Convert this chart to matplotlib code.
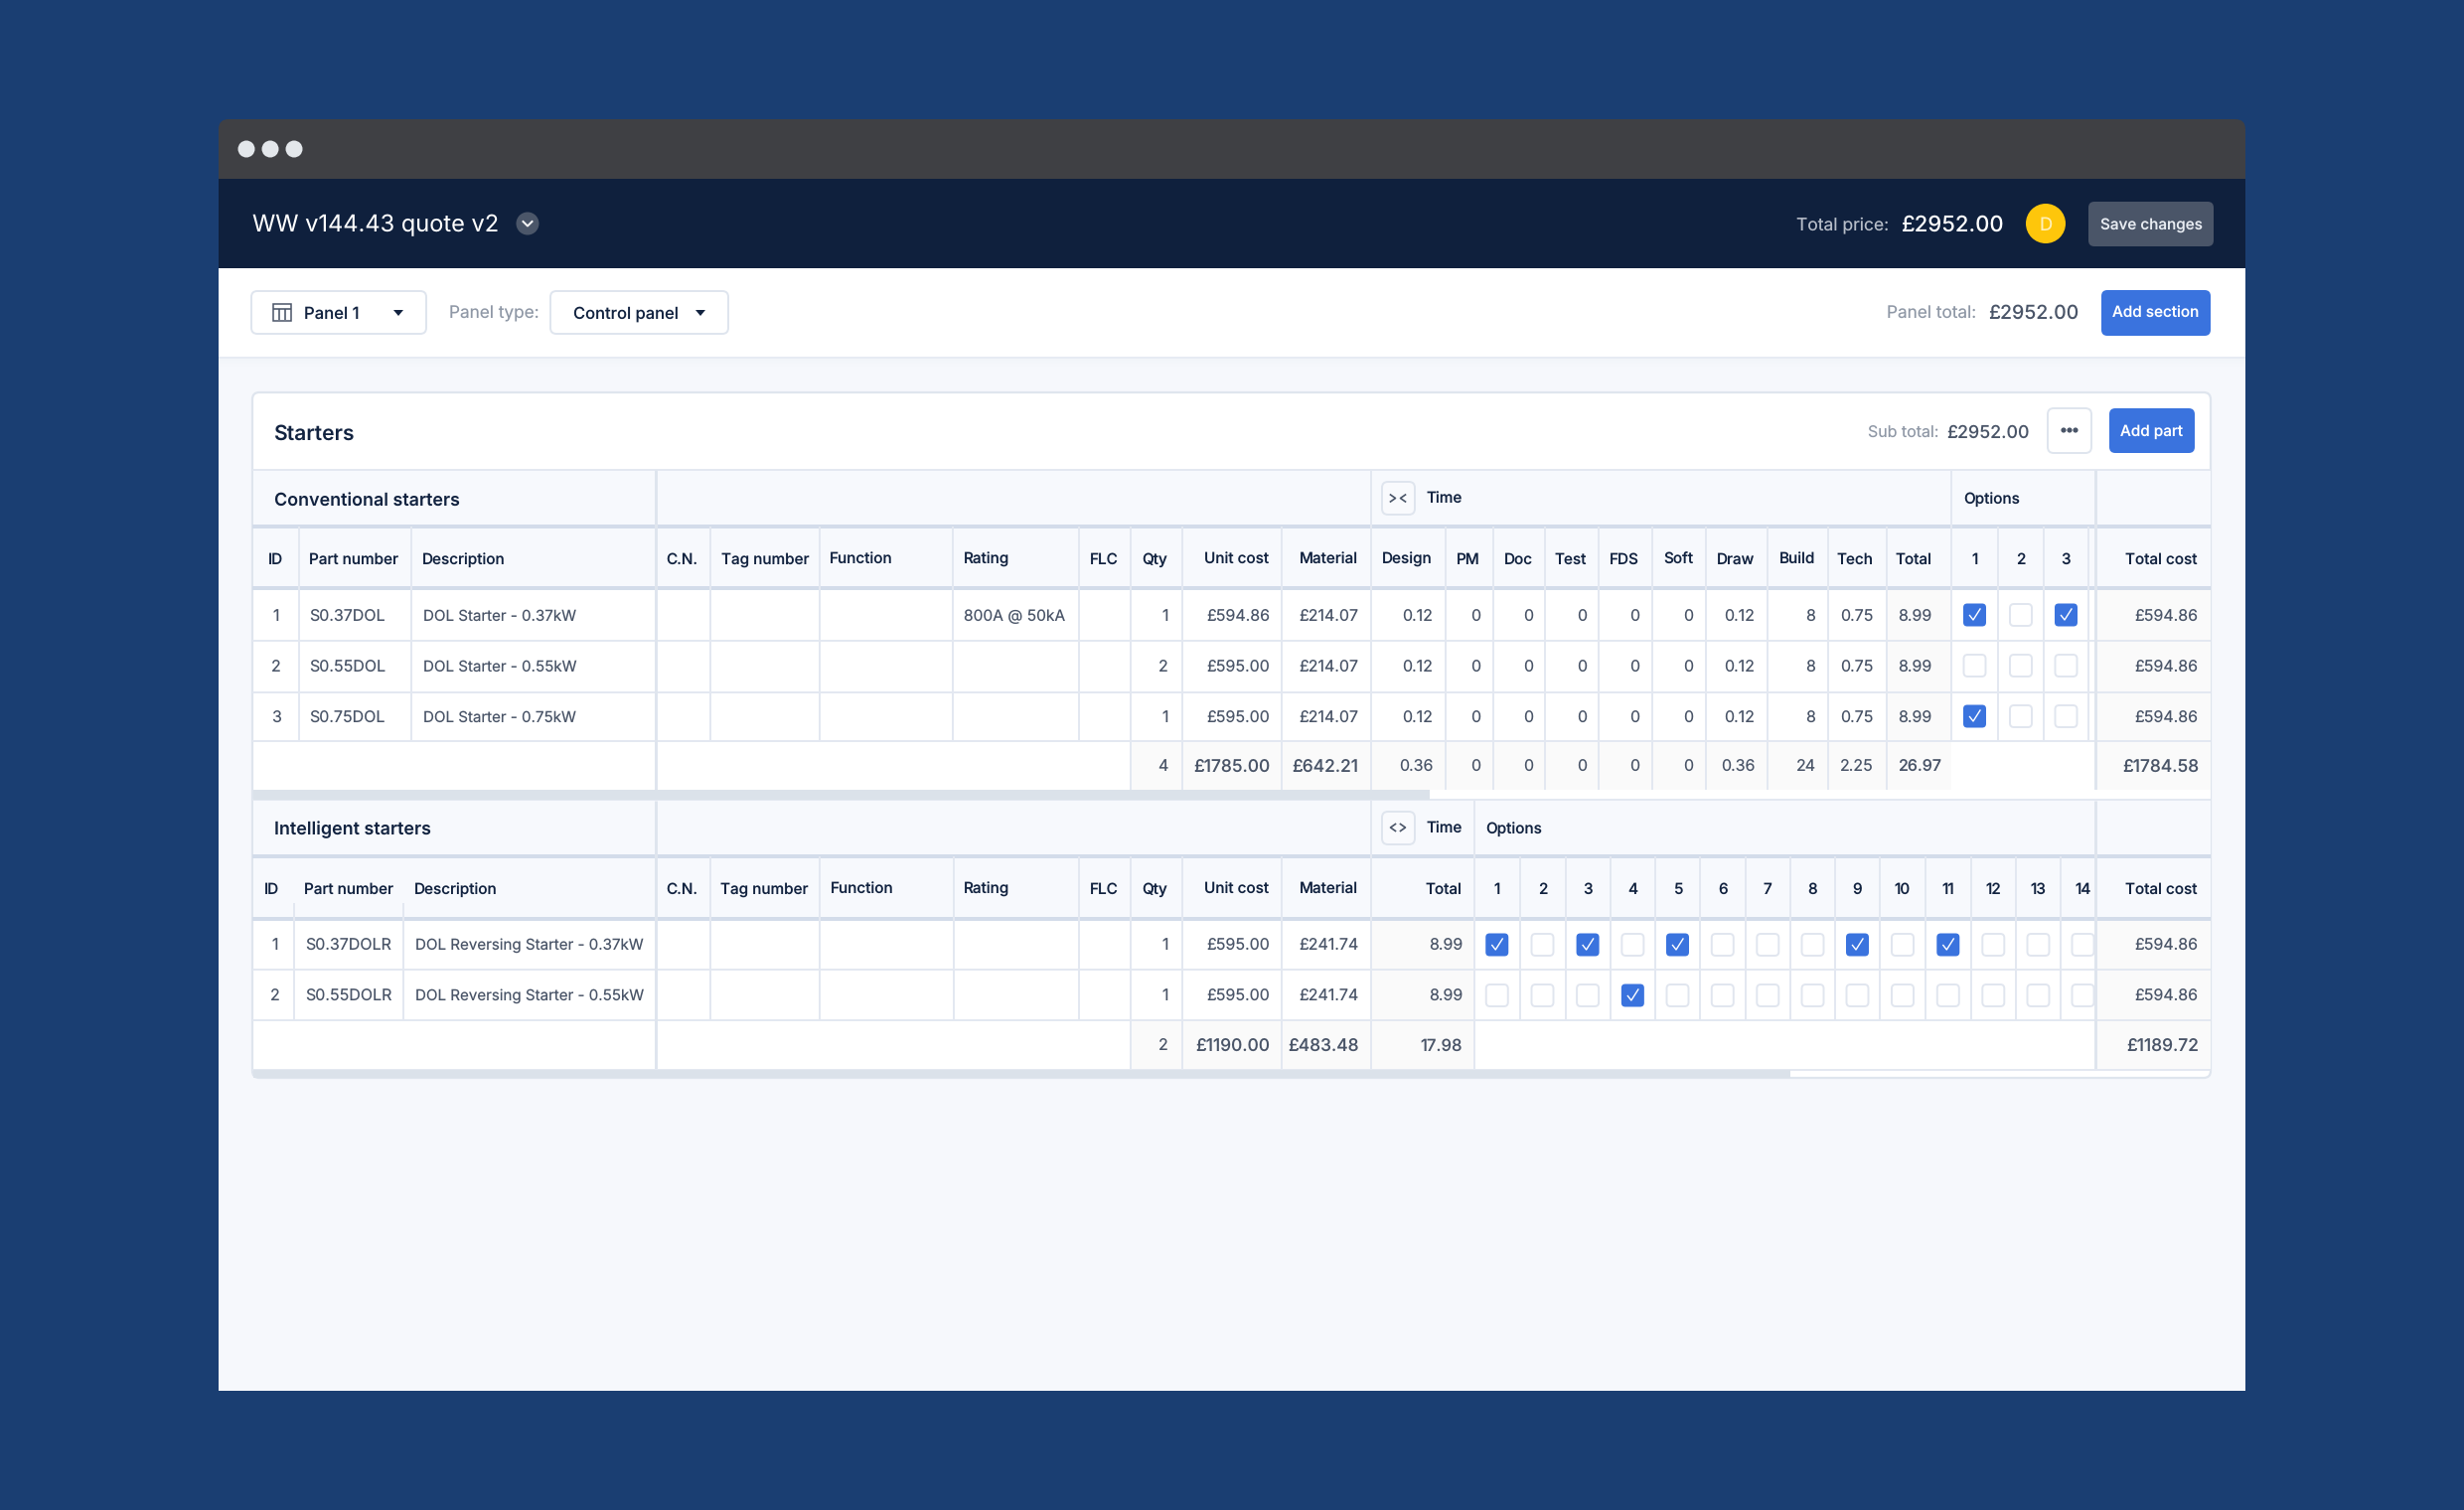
import matplotlib
matplotlib.use("Agg")
import matplotlib.pyplot as plt
from matplotlib.patches import Rectangle, FancyBboxPatch, Circle, Polygon

plt.rcParams["font.family"] = ["Inter", "DejaVu Sans"]
plt.rcParams["text.hinting"] = "no_hinting"
plt.rcParams["text.hinting_factor"] = 1

# Chart values
QUOTE_TITLE = "WW v144.43 quote v2"
TOTAL_PRICE = "£2952.00"
PANEL_TOTAL = "£2952.00"
SUB_TOTAL = "£2952.00"

FRONT_HEADERS = ["ID", "Part number", "Description", "C.N.", "Tag number", "Function", "Rating", "FLC", "Qty"]
TIME_HEADERS = ["Design", "PM", "Doc", "Test", "FDS", "Soft", "Draw", "Build", "Tech", "Total"]

conv_ids = ["1", "2", "3"]
conv_parts = ["S0.37DOL", "S0.55DOL", "S0.75DOL"]
conv_descs = ["DOL Starter - 0.37kW", "DOL Starter - 0.55kW", "DOL Starter - 0.75kW"]
conv_ratings = ["800A @ 50kA", "", ""]
conv_qty = ["1", "2", "1"]
conv_unit_cost = ["£594.86", "£595.00", "£595.00"]
conv_material = ["£214.07", "£214.07", "£214.07"]
conv_time = [
    ["0.12", "0", "0", "0", "0", "0", "0.12", "8", "0.75", "8.99"],
    ["0.12", "0", "0", "0", "0", "0", "0.12", "8", "0.75", "8.99"],
    ["0.12", "0", "0", "0", "0", "0", "0.12", "8", "0.75", "8.99"],
]
conv_options = [[1, 0, 1], [0, 0, 0], [1, 0, 0]]
conv_total_cost = ["£594.86", "£594.86", "£594.86"]
conv_sums = ["4", "£1785.00", "£642.21"]
conv_time_sums = ["0.36", "0", "0", "0", "0", "0", "0.36", "24", "2.25", "26.97"]
conv_cost_sum = "£1784.58"

intel_ids = ["1", "2"]
intel_parts = ["S0.37DOLR", "S0.55DOLR"]
intel_descs = ["DOL Reversing Starter - 0.37kW", "DOL Reversing Starter - 0.55kW"]
intel_qty = ["1", "1"]
intel_unit_cost = ["£595.00", "£595.00"]
intel_material = ["£241.74", "£241.74"]
intel_time = ["8.99", "8.99"]
intel_options = [
    [1, 0, 1, 0, 1, 0, 0, 0, 1, 0, 1, 0, 0, 0],
    [0, 0, 0, 1, 0, 0, 0, 0, 0, 0, 0, 0, 0, 0],
]
intel_total_cost = ["£594.86", "£594.86"]
intel_sums = ["2", "£1190.00", "£483.48"]
intel_time_sum = "17.98"
intel_cost_sum = "£1189.72"

# Colours
BG = "#1a3e72"
TITLEBAR = "#3f4044"
NAV = "#0f203d"
PAGE = "#f6f8fc"
HEAD = "#f7f9fd"
GREY_CELL = "#fafafa"
LINE = "#e3e8f1"
THICK = "#d3dcea"
BLUE = "#3a73de"
DARK = "#122340"
MID = "#4a5568"
MUTED = "#8f98a6"

# Column edges in pixels
CONV_X = [254, 301, 414, 660, 715, 825, 959, 1086, 1138, 1190, 1290, 1380, 1455, 1503, 1555, 1609, 1663,
          1717, 1779, 1840, 1899, 1964, 2011, 2057, 2102]
INTEL_X = [254, 296, 406, 660, 715, 825, 960, 1086, 1138, 1190, 1290, 1380, 1484, 1529.5, 1575.5, 1620.7,
           1666, 1711, 1756.6, 1802, 1847, 1892, 1938, 1983.6, 2029, 2074]
STICKY_X = 2109
RIGHT = 2225
FRONT_LEFT = [270, 311, 425, 670, 726, 835, 970, 1097, 1149]

HEAD_SIZE = 11.0
DESC_SIZE = 10.9
SUM_SIZE = 12.5

fig = plt.figure(figsize=(24.8, 15.2), dpi=100)
ax = fig.add_axes([0, 0, 1, 1])
ax.set_xlim(0, 2480)
ax.set_ylim(1520, 0)
ax.axis("off")
fig.patch.set_facecolor(BG)


def rect(x0, y0, x1, y1, color, z=1):
    ax.add_patch(Rectangle((x0, y0), x1 - x0, y1 - y0, facecolor=color, edgecolor="none", zorder=z))


def rbox(x0, y0, x1, y1, color, edge="none", r=6, z=3, lw=1.4):
    ax.add_patch(FancyBboxPatch((x0 + r, y0 + r), x1 - x0 - 2 * r, y1 - y0 - 2 * r,
                                boxstyle=f"round,pad={r},rounding_size={r}", facecolor=color,
                                edgecolor=edge, linewidth=lw, zorder=z))


def vline(x, y0, y1, color=LINE, px=2, z=2):
    ax.plot([x, x], [y0, y1], color=color, lw=px * 0.72, solid_capstyle="butt", zorder=z)


def hline(y, x0, x1, color=LINE, px=2, z=2):
    ax.plot([x0, x1], [y, y], color=color, lw=px * 0.72, solid_capstyle="butt", zorder=z)


def txt(x, y, s, size=11.5, color=MID, ha="left", weight="normal"):
    # baseline placement keeps a row level whatever letters the text has
    ax.text(x, y + size * 0.5, s, fontsize=size, color=color, ha=ha, va="baseline", fontweight=weight, zorder=6)


def head(x, y, s, ha="left"):
    txt(x, y, s, size=HEAD_SIZE, color=DARK, ha=ha, weight="medium")


def caret(x, y, color=DARK):
    ax.add_patch(Polygon([(x - 5, y - 3), (x + 5, y - 3), (x, y + 3)], facecolor=color, edgecolor="none", zorder=5))


def checkbox(cx, cy, on):
    if on:
        rbox(cx - 11.5, cy - 11.5, cx + 11.5, cy + 11.5, BLUE, r=4)
        ax.plot([cx - 5, cx - 1.5, cx + 5.5], [cy + 0.5, cy + 5, cy - 6], color="white", lw=1.0, zorder=5)
    else:
        rbox(cx - 11, cy - 11, cx + 11, cy + 11, "white", edge="#e1e6ef", r=4)


def chevrons(x0, x1, cy, inward):
    w = 2.5 if inward else -2.5
    for cx, d in ((x0, w), (x1, -w)):
        ax.plot([cx - d, cx + d, cx - d], [cy - 3.5, cy, cy + 3.5], color=MID, lw=1.2, zorder=5)


# Window
rbox(220, 120, 2260, 240, TITLEBAR, r=10, z=1)
rect(220, 180, 2260, 1400, PAGE, z=1)
for cx in (248, 272, 296):
    ax.add_patch(Circle((cx, 150), 8.5, facecolor="#e3e7eb", edgecolor="none", zorder=3))

# Nav bar
rect(220, 180, 2260, 270, NAV, z=1)
txt(254, 225, QUOTE_TITLE, size=17.0, color="white")
ax.add_patch(Circle((531, 225), 11.5, facecolor="#4b5669", edgecolor="none", zorder=3))
ax.plot([526.5, 531, 535.5], [223, 227.5, 223], color="white", lw=1.4, zorder=5)
txt(1808, 225, "Total price:", size=12.6, color="#b6bdc8")
txt(1914, 225, TOTAL_PRICE, size=15.9, color="white", weight="medium")
ax.add_patch(Circle((2059, 225), 20, facecolor="#fec60b", edgecolor="none", zorder=3))
txt(2059, 225, "D", size=13.2, color="#fff0b8", ha="center")
rbox(2102, 203, 2228, 248, "#4a5568", r=6)
txt(2165, 225, "Save changes", size=11.0, color="#e8ecf2", ha="center", weight="medium")

# Toolbar
rect(220, 270, 2260, 359, "white", z=1)
hline(359.5, 220, 2260, "#e6ebf3", 2)
for i, c in enumerate(["#f1f4f9", "#f3f6fa", "#f5f7fb"]):
    rect(220, 360 + i * 3, 2260, 363 + i * 3, c, z=1)
rbox(253, 293, 429, 336, "white", edge="#dfe5ee")
rbox(554, 293, 733, 336, "white", edge="#dfe5ee")
ax.add_patch(Rectangle((275, 306), 18, 16.5, facecolor="none", edgecolor=MID, lw=1.1, zorder=5))
hline(311, 275, 293, MID, 1.6, z=5)
vline(281, 311, 322, MID, 1.6, z=5)
vline(287, 311, 322, MID, 1.6, z=5)
txt(306, 315, "Panel 1", color=DARK, size=12.0, weight="medium")
caret(401, 315)
txt(452, 314, "Panel type:", size=12.4, color=MUTED)
txt(577, 315, "Control panel", color=DARK, size=11.9, weight="medium")
caret(705, 315)
txt(1899, 314, "Panel total:", size=12.4, color=MUTED)
txt(2001, 314, PANEL_TOTAL, size=14.0, color=MID, weight="medium")
rbox(2115, 292, 2225, 338, BLUE, r=6)
txt(2170, 314, "Add section", size=11.0, color="white", ha="center", weight="medium")

# Card
rbox(254, 395, 2225, 1085, "white", edge="#dfe5ee", r=7, z=1, lw=1.6)
txt(275, 435, "Starters", size=15.2, color=DARK, weight="semibold")
txt(1880, 434, "Sub total:", size=11.5, color=MUTED)
txt(1959, 434, SUB_TOTAL, size=12.8, color=MID, weight="medium")
rbox(2061, 411, 2105, 456, "white", edge="#dfe5ee")
for cx in (2077, 2083, 2089):
    ax.add_patch(Circle((cx, 433), 2.6, facecolor=MID, edgecolor="none", zorder=5))
rbox(2123, 411, 2209, 456, BLUE, r=6)
txt(2166, 433, "Add part", size=11.0, color="white", ha="center", weight="medium")

# Conventional starters
Y_C = [472.5, 530, 592, 645, 696.5, 746, 795]
conv_row_y = [619, 670, 721]
rect(255, 473, RIGHT, 592, HEAD)
rect(CONV_X[20], 592, CONV_X[21], 746, GREY_CELL)
rect(STICKY_X, 592, RIGHT, 795, GREY_CELL)
rect(CONV_X[8], 746, CONV_X[21], 795, GREY_CELL)
hline(Y_C[0], 254, RIGHT)
hline(Y_C[1], 254, RIGHT, THICK, 4)
hline(Y_C[2], 254, RIGHT, THICK, 4)
for y in Y_C[3:6]:
    hline(y, 254, RIGHT)
for x in CONV_X[1:3]:
    vline(x, 530, 746)
for x in CONV_X[4:8]:
    vline(x, 530, 746)
for x in CONV_X[8:21]:
    vline(x, 530, 795)
for x in CONV_X[21:]:
    vline(x, 530, 746)
for x in (CONV_X[11], CONV_X[21]):
    vline(x, 473, 530)
vline(CONV_X[3], 473, 795, "#dfe5ee", 3)
vline(STICKY_X, 473, 795, "#dfe5ee", 3)
txt(276, 502, "Conventional starters", size=12.9, color=DARK, weight="semibold")
rbox(1391, 485, 1424, 518, "#f9fafd", edge="#dfe5ee")
chevrons(1402, 1412, 501.5, True)
head(1435, 501.5, "Time")
head(1976, 501.5, "Options")

for x, s in zip(FRONT_LEFT, FRONT_HEADERS):
    head(x, 562.5, s)
head(1277, 562.5, "Unit cost", ha="right")
head(1367, 562.5, "Material", ha="right")
time_right = [1442, 1490, 1543, 1597, 1650, 1704, 1766, 1827, 1885, 1944]
for x, s in zip(time_right, TIME_HEADERS):
    head(x, 562.5, s, ha="right")
for i in range(3):
    cx = (CONV_X[21 + i] + CONV_X[22 + i]) / 2
    head(cx, 562.5, str(i + 1), ha="center")
head(2211, 562.5, "Total cost", ha="right")

for r, y in enumerate(conv_row_y):
    txt(278, y, conv_ids[r], ha="center")
    txt(311, y, conv_parts[r])
    txt(426, y, conv_descs[r], size=DESC_SIZE)
    txt(970, y, conv_ratings[r], size=11.2)
    txt(1176, y, conv_qty[r], ha="right")
    txt(1278, y, conv_unit_cost[r], ha="right")
    txt(1367, y, conv_material[r], ha="right")
    for x, s in zip(time_right, conv_time[r]):
        txt(x + 0.5, y, s, ha="right")
    for i, on in enumerate(conv_options[r]):
        checkbox((CONV_X[21 + i] + CONV_X[22 + i]) / 2, y, on)
    txt(2212, y, conv_total_cost[r], ha="right")

y = 770.5
txt(1176, y, conv_sums[0], ha="right")
txt(1278, y, conv_sums[1], size=SUM_SIZE, ha="right", weight="medium")
txt(1367, y, conv_sums[2], size=SUM_SIZE, ha="right", weight="medium")
for x, s in zip(time_right, conv_time_sums):
    txt(x + (10 if s == "26.97" else 0.5), y, s, ha="right", weight="medium" if s == "26.97" else "normal")
txt(2213, y, conv_cost_sum, size=SUM_SIZE, ha="right", weight="medium")

# Scrollbar between the two tables
rect(255, 795, RIGHT, 805, "white", z=2)
hline(804.5, 254, RIGHT)
rect(255, 795, 1439, 805, "#dbe2ea", z=3)

# Intelligent starters
Y_I = [805, 862, 925, 976, 1027, 1076]
intel_row_y = [950, 1001]
rect(255, 806, RIGHT, 925, HEAD)
rect(INTEL_X[11], 925, INTEL_X[12], 1076, GREY_CELL)
rect(STICKY_X, 925, RIGHT, 1076, GREY_CELL)
rect(INTEL_X[8], 1027, INTEL_X[12], 1076, GREY_CELL)
hline(Y_I[1], 254, RIGHT, THICK, 4)
hline(Y_I[2], 254, RIGHT, THICK, 4)
for y in Y_I[3:5]:
    hline(y, 254, RIGHT)
for x in INTEL_X[1:3]:
    vline(x, 909, 1027)
for x in INTEL_X[4:8]:
    vline(x, 862, 1027)
for x in INTEL_X[8:13]:
    vline(x, 862, 1076)
for x in INTEL_X[13:]:
    vline(x, 862, 1027)
for x in (INTEL_X[11], INTEL_X[12]):
    vline(x, 806, 862)
vline(INTEL_X[3], 806, 1076, "#dfe5ee", 3)
vline(STICKY_X, 806, 1076, "#dfe5ee", 3)
txt(276, 834, "Intelligent starters", size=12.9, color=DARK, weight="semibold")
rbox(1391, 817, 1424, 850, "#f9fafd", edge="#dfe5ee")
chevrons(1402, 1412, 833, False)
head(1435, 833, "Time")
head(1495, 833, "Options")

intel_left = [265.5, 306, 417, 670.5, 725, 836, 970, 1096.5, 1149.5]
for x, s in zip(intel_left, FRONT_HEADERS):
    head(x, 894, s)
head(1277, 894, "Unit cost", ha="right")
head(1367, 894, "Material", ha="right")
head(1471.5, 894, "Total", ha="right")
for i in range(14):
    cx = (INTEL_X[12 + i] + INTEL_X[13 + i]) / 2 if i < 13 else 2096.5
    head(cx, 894, str(i + 1), ha="center")
head(2211, 894, "Total cost", ha="right")

for r, y in enumerate(intel_row_y):
    txt(276.5, y, intel_ids[r], ha="center")
    txt(307.5, y, intel_parts[r])
    txt(418, y, intel_descs[r], size=DESC_SIZE)
    txt(1176, y, intel_qty[r], ha="right")
    txt(1278, y, intel_unit_cost[r], ha="right")
    txt(1367.5, y, intel_material[r], ha="right")
    txt(1472, y, intel_time[r], ha="right")
    for i, on in enumerate(intel_options[r]):
        cx = (INTEL_X[12 + i] + INTEL_X[13 + i]) / 2 if i < 13 else 2096.5
        checkbox(cx, y + 1, on)
    txt(2212, y, intel_total_cost[r], ha="right")

y = 1051.5
txt(1176, y, intel_sums[0], ha="right")
txt(1278, y, intel_sums[1], size=SUM_SIZE, ha="right", weight="medium")
txt(1367.5, y, intel_sums[2], size=SUM_SIZE, ha="right", weight="medium")
txt(1472, y, intel_time_sum, size=12.0, ha="right", weight="medium")
txt(2213, y, intel_cost_sum, size=SUM_SIZE, ha="right", weight="medium")

# Bottom scrollbar
rect(255, 1077, 1802, 1085, "#dbe2ea", z=3)
hline(1076.5, 254, RIGHT)

fig.savefig("out.png", dpi=100, facecolor=BG)
